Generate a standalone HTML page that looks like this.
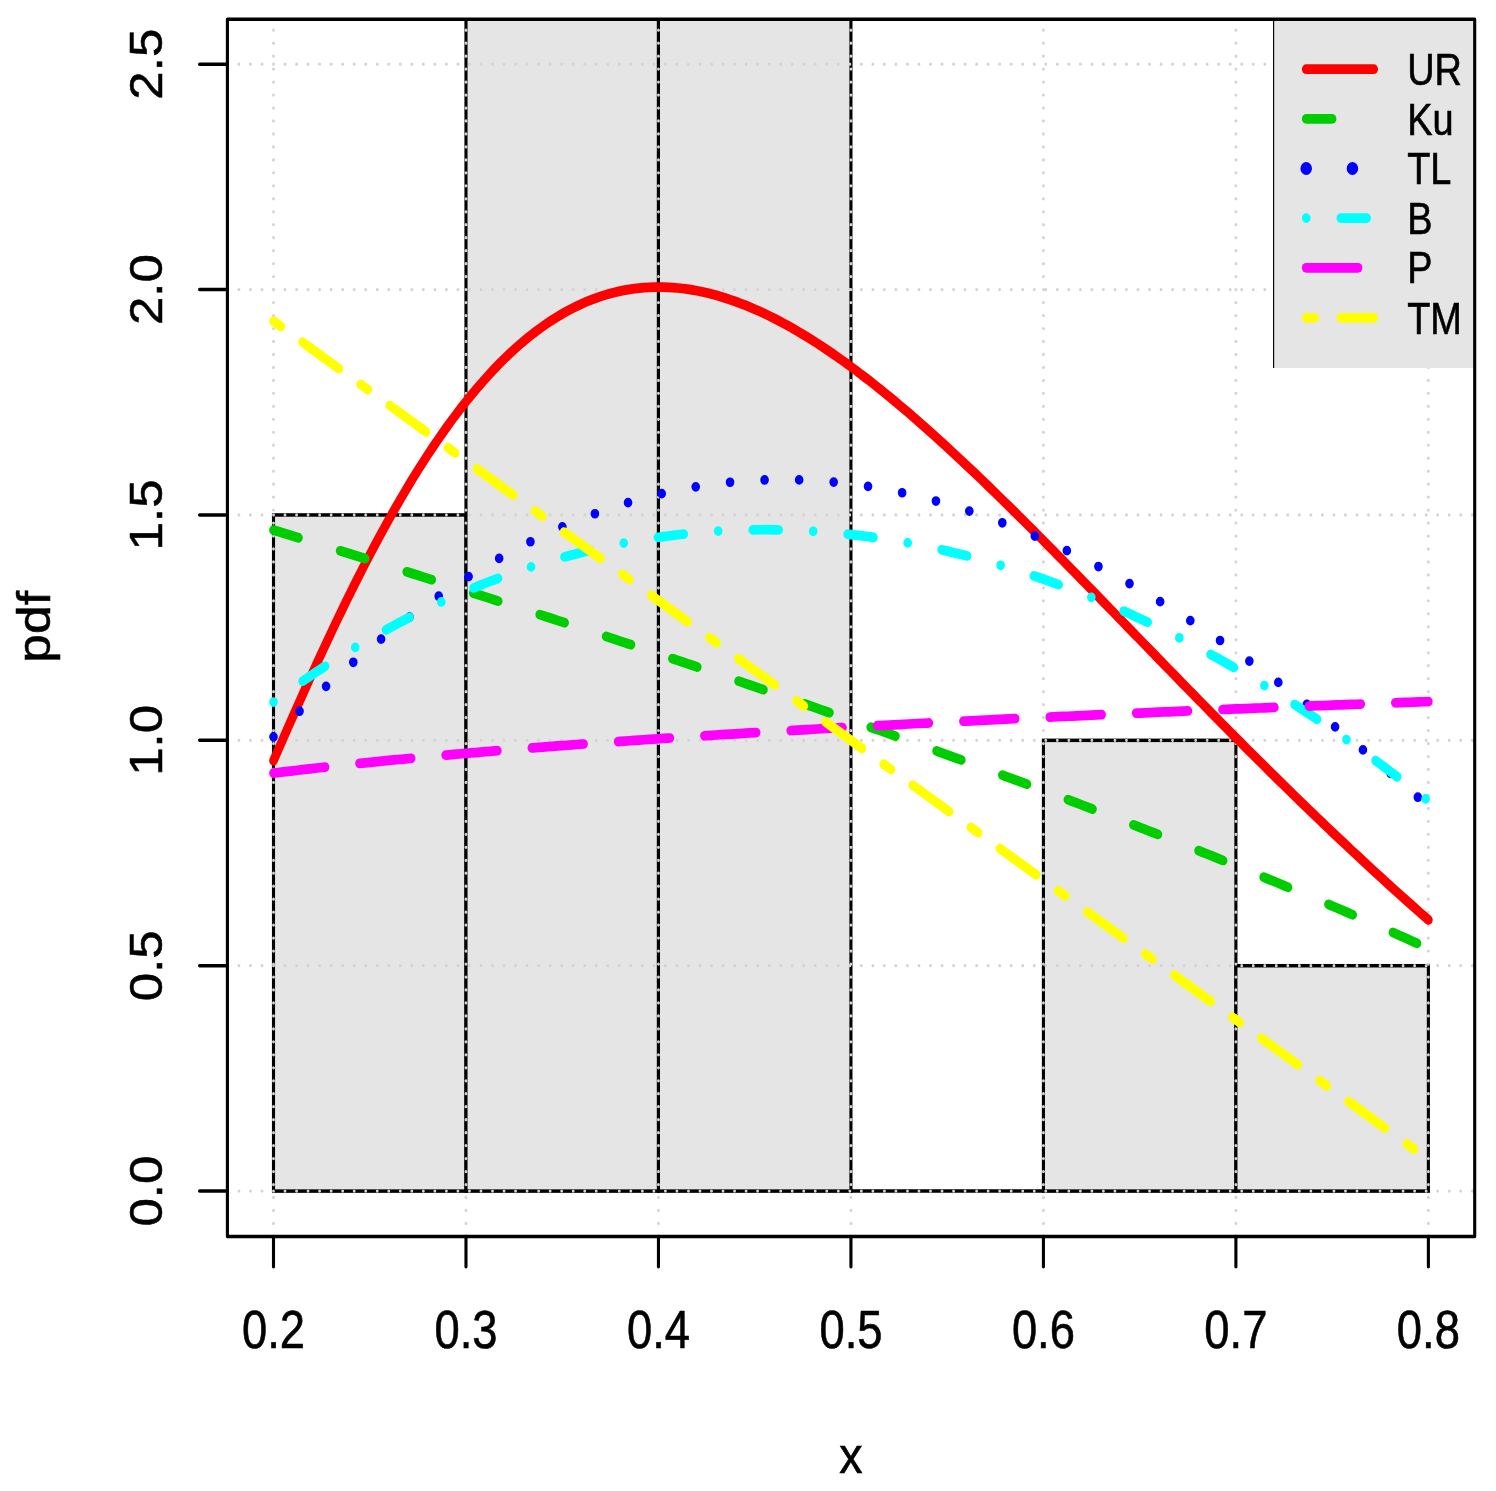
<!DOCTYPE html>
<html><head><meta charset="utf-8"><title>pdf plot</title>
<style>html,body{margin:0;padding:0;background:#fff;overflow:hidden}svg{display:block}text{font-family:"Liberation Sans",Arial,Helvetica,sans-serif;fill:#000}</style>
</head><body>
<svg width="1496" height="1491" viewBox="0 0 1496 1491">
<rect x="0" y="0" width="1496" height="1491" fill="#ffffff"/>
<defs><clipPath id="plt"><rect x="255.88" y="19.30" width="1403.51" height="1217.10"/></clipPath></defs>
<g transform="scale(0.8887,1)">
<g clip-path="url(#plt)" fill="#e5e5e5" stroke="#000" stroke-width="3.50" stroke-linejoin="miter">
<rect x="307.75" y="514.96" width="216.59" height="676.14"/>
<rect x="524.34" y="-386.56" width="216.59" height="1577.66"/>
<rect x="740.92" y="-386.56" width="216.59" height="1577.66"/>
<rect x="957.51" y="1191.10" width="216.59" height="0.00"/>
<rect x="1174.10" y="740.34" width="216.59" height="450.76"/>
<rect x="1390.68" y="965.72" width="216.59" height="225.38"/>
<path d="M957.51 1191.10H1174.10"/>
</g>
<g stroke="#d3d3d3" stroke-width="3.25" stroke-linecap="round" stroke-dasharray="0 12.97" fill="none">
<path d="M307.75 1236.40V19.30"/>
<path d="M524.34 1236.40V19.30"/>
<path d="M740.92 1236.40V19.30"/>
<path d="M957.51 1236.40V19.30"/>
<path d="M1174.10 1236.40V19.30"/>
<path d="M1390.68 1236.40V19.30"/>
<path d="M1607.27 1236.40V19.30"/>
<path d="M255.88 1191.10H1659.39"/>
<path d="M255.88 965.72H1659.39"/>
<path d="M255.88 740.34H1659.39"/>
<path d="M255.88 514.96H1659.39"/>
<path d="M255.88 289.58H1659.39"/>
<path d="M255.88 64.20H1659.39"/>
</g>
<g clip-path="url(#plt)" fill="none" stroke-width="9.727" stroke-linecap="round" stroke-linejoin="round">
<polyline points="307.75,760.61 313.17,749.58 318.58,738.59 324.00,727.65 329.41,716.77 334.83,705.94 340.24,695.19 345.66,684.51 351.07,673.91 356.48,663.40 361.90,652.98 367.31,642.65 372.73,632.43 378.14,622.31 383.56,612.31 388.97,602.42 394.39,592.65 399.80,583.00 405.22,573.48 410.63,564.09 416.05,554.84 421.46,545.73 426.88,536.75 432.29,527.92 437.70,519.23 443.12,510.70 448.53,502.31 453.95,494.08 459.36,486.00 464.78,478.08 470.19,470.31 475.61,462.71 481.02,455.26 486.44,447.98 491.85,440.87 497.27,433.91 502.68,427.12 508.09,420.50 513.51,414.04 518.92,407.75 524.34,401.63 529.75,395.67 535.17,389.88 540.58,384.26 546.00,378.81 551.41,373.52 556.83,368.40 562.24,363.44 567.66,358.65 573.07,354.03 578.49,349.57 583.90,345.27 589.31,341.14 594.73,337.17 600.14,333.36 605.56,329.72 610.97,326.23 616.39,322.90 621.80,319.73 627.22,316.71 632.63,313.85 638.05,311.14 643.46,308.59 648.88,306.19 654.29,303.93 659.71,301.83 665.12,299.87 670.53,298.06 675.95,296.39 681.36,294.87 686.78,293.48 692.19,292.24 697.61,291.13 703.02,290.16 708.44,289.32 713.85,288.62 719.27,288.04 724.68,287.60 730.10,287.29 735.51,287.10 740.92,287.03 746.34,287.09 751.75,287.27 757.17,287.57 762.58,287.98 768.00,288.52 773.41,289.16 778.83,289.92 784.24,290.79 789.66,291.76 795.07,292.85 800.49,294.04 805.90,295.33 811.32,296.73 816.73,298.22 822.14,299.81 827.56,301.50 832.97,303.29 838.39,305.17 843.80,307.13 849.22,309.19 854.63,311.34 860.05,313.58 865.46,315.89 870.88,318.30 876.29,320.78 881.71,323.34 887.12,325.98 892.54,328.70 897.95,331.49 903.36,334.36 908.78,337.30 914.19,340.31 919.61,343.39 925.02,346.53 930.44,349.74 935.85,353.02 941.27,356.35 946.68,359.75 952.10,363.21 957.51,366.73 962.93,370.30 968.34,373.93 973.75,377.61 979.17,381.35 984.58,385.14 990.00,388.98 995.41,392.86 1000.83,396.80 1006.24,400.78 1011.66,404.80 1017.07,408.87 1022.49,412.98 1027.90,417.14 1033.32,421.33 1038.73,425.56 1044.15,429.83 1049.56,434.13 1054.97,438.47 1060.39,442.84 1065.80,447.25 1071.22,451.69 1076.63,456.15 1082.05,460.65 1087.46,465.18 1092.88,469.73 1098.29,474.31 1103.71,478.92 1109.12,483.55 1114.54,488.20 1119.95,492.87 1125.37,497.57 1130.78,502.29 1136.19,507.03 1141.61,511.78 1147.02,516.55 1152.44,521.34 1157.85,526.15 1163.27,530.97 1168.68,535.81 1174.10,540.65 1179.51,545.52 1184.93,550.39 1190.34,555.27 1195.76,560.17 1201.17,565.07 1206.58,569.98 1212.00,574.90 1217.41,579.83 1222.83,584.76 1228.24,589.70 1233.66,594.65 1239.07,599.60 1244.49,604.55 1249.90,609.51 1255.32,614.47 1260.73,619.43 1266.15,624.39 1271.56,629.35 1276.98,634.32 1282.39,639.28 1287.80,644.24 1293.22,649.20 1298.63,654.16 1304.05,659.11 1309.46,664.06 1314.88,669.01 1320.29,673.95 1325.71,678.89 1331.12,683.83 1336.54,688.75 1341.95,693.68 1347.37,698.59 1352.78,703.50 1358.20,708.40 1363.61,713.29 1369.02,718.18 1374.44,723.05 1379.85,727.92 1385.27,732.77 1390.68,737.62 1396.10,742.46 1401.51,747.28 1406.93,752.10 1412.34,756.90 1417.76,761.69 1423.17,766.47 1428.59,771.24 1434.00,775.99 1439.41,780.73 1444.83,785.46 1450.24,790.18 1455.66,794.88 1461.07,799.56 1466.49,804.24 1471.90,808.89 1477.32,813.54 1482.73,818.16 1488.15,822.77 1493.56,827.37 1498.98,831.95 1504.39,836.52 1509.81,841.06 1515.22,845.59 1520.63,850.11 1526.05,854.61 1531.46,859.09 1536.88,863.55 1542.29,868.00 1547.71,872.42 1553.12,876.83 1558.54,881.23 1563.95,885.60 1569.37,889.96 1574.78,894.29 1580.20,898.61 1585.61,902.91 1591.03,907.19 1596.44,911.45 1601.85,915.69 1607.27,919.92" stroke="#ff0000"/>
<polyline points="307.75,530.06 313.17,531.54 318.58,533.03 324.00,534.52 329.41,536.01 334.83,537.50 340.24,539.00 345.66,540.49 351.07,541.99 356.48,543.49 361.90,544.99 367.31,546.49 372.73,547.99 378.14,549.50 383.56,551.00 388.97,552.51 394.39,554.02 399.80,555.53 405.22,557.04 410.63,558.55 416.05,560.07 421.46,561.58 426.88,563.10 432.29,564.62 437.70,566.14 443.12,567.66 448.53,569.19 453.95,570.71 459.36,572.24 464.78,573.77 470.19,575.30 475.61,576.83 481.02,578.36 486.44,579.90 491.85,581.43 497.27,582.97 502.68,584.51 508.09,586.05 513.51,587.59 518.92,589.14 524.34,590.68 529.75,592.23 535.17,593.78 540.58,595.33 546.00,596.88 551.41,598.44 556.83,599.99 562.24,601.55 567.66,603.11 573.07,604.67 578.49,606.23 583.90,607.79 589.31,609.36 594.73,610.93 600.14,612.50 605.56,614.07 610.97,615.64 616.39,617.21 621.80,618.79 627.22,620.37 632.63,621.95 638.05,623.53 643.46,625.11 648.88,626.70 654.29,628.28 659.71,629.87 665.12,631.46 670.53,633.05 675.95,634.64 681.36,636.24 686.78,637.84 692.19,639.44 697.61,641.04 703.02,642.64 708.44,644.24 713.85,645.85 719.27,647.46 724.68,649.07 730.10,650.68 735.51,652.30 740.92,653.91 746.34,655.53 751.75,657.15 757.17,658.77 762.58,660.39 768.00,662.02 773.41,663.65 778.83,665.28 784.24,666.91 789.66,668.54 795.07,670.18 800.49,671.81 805.90,673.45 811.32,675.09 816.73,676.74 822.14,678.38 827.56,680.03 832.97,681.68 838.39,683.33 843.80,684.99 849.22,686.64 854.63,688.30 860.05,689.96 865.46,691.62 870.88,693.29 876.29,694.96 881.71,696.62 887.12,698.30 892.54,699.97 897.95,701.64 903.36,703.32 908.78,705.00 914.19,706.69 919.61,708.37 925.02,710.06 930.44,711.75 935.85,713.44 941.27,715.13 946.68,716.83 952.10,718.53 957.51,720.23 962.93,721.93 968.34,723.64 973.75,725.34 979.17,727.06 984.58,728.77 990.00,730.48 995.41,732.20 1000.83,733.92 1006.24,735.65 1011.66,737.37 1017.07,739.10 1022.49,740.83 1027.90,742.56 1033.32,744.30 1038.73,746.04 1044.15,747.78 1049.56,749.52 1054.97,751.27 1060.39,753.02 1065.80,754.77 1071.22,756.52 1076.63,758.28 1082.05,760.04 1087.46,761.80 1092.88,763.57 1098.29,765.34 1103.71,767.11 1109.12,768.88 1114.54,770.66 1119.95,772.44 1125.37,774.22 1130.78,776.01 1136.19,777.80 1141.61,779.59 1147.02,781.39 1152.44,783.18 1157.85,784.98 1163.27,786.79 1168.68,788.59 1174.10,790.40 1179.51,792.22 1184.93,794.03 1190.34,795.85 1195.76,797.68 1201.17,799.50 1206.58,801.33 1212.00,803.17 1217.41,805.00 1222.83,806.84 1228.24,808.68 1233.66,810.53 1239.07,812.38 1244.49,814.23 1249.90,816.09 1255.32,817.95 1260.73,819.81 1266.15,821.68 1271.56,823.55 1276.98,825.43 1282.39,827.31 1287.80,829.19 1293.22,831.07 1298.63,832.96 1304.05,834.86 1309.46,836.76 1314.88,838.66 1320.29,840.56 1325.71,842.47 1331.12,844.39 1336.54,846.30 1341.95,848.22 1347.37,850.15 1352.78,852.08 1358.20,854.01 1363.61,855.95 1369.02,857.89 1374.44,859.84 1379.85,861.79 1385.27,863.75 1390.68,865.71 1396.10,867.67 1401.51,869.64 1406.93,871.62 1412.34,873.60 1417.76,875.58 1423.17,877.57 1428.59,879.56 1434.00,881.56 1439.41,883.56 1444.83,885.57 1450.24,887.58 1455.66,889.60 1461.07,891.63 1466.49,893.65 1471.90,895.69 1477.32,897.73 1482.73,899.77 1488.15,901.82 1493.56,903.88 1498.98,905.94 1504.39,908.01 1509.81,910.08 1515.22,912.16 1520.63,914.24 1526.05,916.33 1531.46,918.43 1536.88,920.53 1542.29,922.64 1547.71,924.76 1553.12,926.88 1558.54,929.01 1563.95,931.15 1569.37,933.29 1574.78,935.44 1580.20,937.59 1585.61,939.75 1591.03,941.92 1596.44,944.10 1601.85,946.29 1607.27,948.48" stroke="#00cd00" stroke-dasharray="29.18 48.64"/>
<polyline points="307.75,736.84 313.17,732.01 318.58,727.21 324.00,722.46 329.41,717.76 334.83,713.09 340.24,708.47 345.66,703.89 351.07,699.36 356.48,694.87 361.90,690.42 367.31,686.02 372.73,681.66 378.14,677.34 383.56,673.08 388.97,668.85 394.39,664.67 399.80,660.54 405.22,656.45 410.63,652.41 416.05,648.41 421.46,644.46 426.88,640.55 432.29,636.69 437.70,632.88 443.12,629.11 448.53,625.39 453.95,621.72 459.36,618.09 464.78,614.51 470.19,610.97 475.61,607.49 481.02,604.04 486.44,600.65 491.85,597.30 497.27,594.00 502.68,590.75 508.09,587.54 513.51,584.39 518.92,581.27 524.34,578.21 529.75,575.19 535.17,572.22 540.58,569.30 546.00,566.43 551.41,563.60 556.83,560.82 562.24,558.09 567.66,555.40 573.07,552.76 578.49,550.17 583.90,547.63 589.31,545.13 594.73,542.69 600.14,540.29 605.56,537.93 610.97,535.63 616.39,533.37 621.80,531.16 627.22,528.99 632.63,526.88 638.05,524.81 643.46,522.79 648.88,520.81 654.29,518.88 659.71,517.00 665.12,515.17 670.53,513.38 675.95,511.64 681.36,509.95 686.78,508.31 692.19,506.71 697.61,505.15 703.02,503.65 708.44,502.19 713.85,500.78 719.27,499.41 724.68,498.09 730.10,496.82 735.51,495.59 740.92,494.41 746.34,493.28 751.75,492.19 757.17,491.15 762.58,490.15 768.00,489.20 773.41,488.30 778.83,487.44 784.24,486.62 789.66,485.85 795.07,485.13 800.49,484.45 805.90,483.82 811.32,483.23 816.73,482.69 822.14,482.19 827.56,481.74 832.97,481.33 838.39,480.97 843.80,480.65 849.22,480.37 854.63,480.14 860.05,479.95 865.46,479.81 870.88,479.71 876.29,479.65 881.71,479.64 887.12,479.67 892.54,479.75 897.95,479.87 903.36,480.03 908.78,480.23 914.19,480.48 919.61,480.77 925.02,481.10 930.44,481.47 935.85,481.89 941.27,482.35 946.68,482.85 952.10,483.39 957.51,483.97 962.93,484.60 968.34,485.27 973.75,485.98 979.17,486.73 984.58,487.52 990.00,488.35 995.41,489.22 1000.83,490.13 1006.24,491.09 1011.66,492.08 1017.07,493.11 1022.49,494.19 1027.90,495.30 1033.32,496.45 1038.73,497.65 1044.15,498.88 1049.56,500.15 1054.97,501.46 1060.39,502.81 1065.80,504.19 1071.22,505.62 1076.63,507.08 1082.05,508.59 1087.46,510.13 1092.88,511.71 1098.29,513.32 1103.71,514.97 1109.12,516.67 1114.54,518.39 1119.95,520.16 1125.37,521.96 1130.78,523.80 1136.19,525.67 1141.61,527.58 1147.02,529.53 1152.44,531.51 1157.85,533.53 1163.27,535.59 1168.68,537.68 1174.10,539.80 1179.51,541.96 1184.93,544.16 1190.34,546.39 1195.76,548.65 1201.17,550.95 1206.58,553.28 1212.00,555.65 1217.41,558.05 1222.83,560.48 1228.24,562.95 1233.66,565.45 1239.07,567.98 1244.49,570.55 1249.90,573.15 1255.32,575.78 1260.73,578.44 1266.15,581.14 1271.56,583.87 1276.98,586.62 1282.39,589.41 1287.80,592.24 1293.22,595.09 1298.63,597.97 1304.05,600.89 1309.46,603.83 1314.88,606.80 1320.29,609.81 1325.71,612.84 1331.12,615.91 1336.54,619.00 1341.95,622.12 1347.37,625.28 1352.78,628.46 1358.20,631.67 1363.61,634.91 1369.02,638.17 1374.44,641.47 1379.85,644.79 1385.27,648.14 1390.68,651.51 1396.10,654.92 1401.51,658.35 1406.93,661.81 1412.34,665.29 1417.76,668.80 1423.17,672.34 1428.59,675.90 1434.00,679.49 1439.41,683.11 1444.83,686.75 1450.24,690.41 1455.66,694.10 1461.07,697.82 1466.49,701.55 1471.90,705.32 1477.32,709.10 1482.73,712.92 1488.15,716.75 1493.56,720.61 1498.98,724.49 1504.39,728.39 1509.81,732.32 1515.22,736.27 1520.63,740.24 1526.05,744.23 1531.46,748.25 1536.88,752.29 1542.29,756.35 1547.71,760.43 1553.12,764.53 1558.54,768.65 1563.95,772.79 1569.37,776.95 1574.78,781.14 1580.20,785.34 1585.61,789.56 1591.03,793.80 1596.44,798.06 1601.85,802.34 1607.27,806.64" stroke="#0000ff" stroke-dasharray="0.00 38.91"/>
<polyline points="307.75,702.03 313.17,698.49 318.58,694.99 324.00,691.53 329.41,688.11 334.83,684.73 340.24,681.40 345.66,678.10 351.07,674.85 356.48,671.63 361.90,668.46 367.31,665.33 372.73,662.23 378.14,659.18 383.56,656.17 388.97,653.19 394.39,650.26 399.80,647.36 405.22,644.50 410.63,641.68 416.05,638.90 421.46,636.16 426.88,633.45 432.29,630.79 437.70,628.16 443.12,625.57 448.53,623.01 453.95,620.50 459.36,618.02 464.78,615.57 470.19,613.17 475.61,610.80 481.02,608.47 486.44,606.17 491.85,603.91 497.27,601.69 502.68,599.50 508.09,597.35 513.51,595.23 518.92,593.15 524.34,591.11 529.75,589.10 535.17,587.12 540.58,585.18 546.00,583.28 551.41,581.41 556.83,579.58 562.24,577.78 567.66,576.01 573.07,574.29 578.49,572.59 583.90,570.93 589.31,569.30 594.73,567.71 600.14,566.15 605.56,564.63 610.97,563.13 616.39,561.68 621.80,560.25 627.22,558.86 632.63,557.51 638.05,556.19 643.46,554.90 648.88,553.64 654.29,552.42 659.71,551.23 665.12,550.07 670.53,548.94 675.95,547.85 681.36,546.79 686.78,545.77 692.19,544.77 697.61,543.81 703.02,542.88 708.44,541.99 713.85,541.12 719.27,540.29 724.68,539.49 730.10,538.72 735.51,537.98 740.92,537.28 746.34,536.61 751.75,535.97 757.17,535.36 762.58,534.78 768.00,534.24 773.41,533.72 778.83,533.24 784.24,532.79 789.66,532.37 795.07,531.98 800.49,531.62 805.90,531.29 811.32,531.00 816.73,530.73 822.14,530.50 827.56,530.30 832.97,530.12 838.39,529.98 843.80,529.87 849.22,529.79 854.63,529.74 860.05,529.72 865.46,529.73 870.88,529.78 876.29,529.85 881.71,529.95 887.12,530.08 892.54,530.25 897.95,530.44 903.36,530.66 908.78,530.92 914.19,531.20 919.61,531.51 925.02,531.85 930.44,532.23 935.85,532.63 941.27,533.06 946.68,533.52 952.10,534.02 957.51,534.54 962.93,535.09 968.34,535.67 973.75,536.28 979.17,536.92 984.58,537.59 990.00,538.28 995.41,539.01 1000.83,539.77 1006.24,540.55 1011.66,541.37 1017.07,542.21 1022.49,543.09 1027.90,543.99 1033.32,544.92 1038.73,545.88 1044.15,546.87 1049.56,547.88 1054.97,548.93 1060.39,550.01 1065.80,551.11 1071.22,552.24 1076.63,553.40 1082.05,554.59 1087.46,555.81 1092.88,557.06 1098.29,558.34 1103.71,559.64 1109.12,560.97 1114.54,562.33 1119.95,563.72 1125.37,565.14 1130.78,566.59 1136.19,568.06 1141.61,569.56 1147.02,571.09 1152.44,572.65 1157.85,574.24 1163.27,575.86 1168.68,577.50 1174.10,579.17 1179.51,580.87 1184.93,582.60 1190.34,584.35 1195.76,586.13 1201.17,587.94 1206.58,589.78 1212.00,591.65 1217.41,593.54 1222.83,595.46 1228.24,597.41 1233.66,599.39 1239.07,601.40 1244.49,603.43 1249.90,605.49 1255.32,607.58 1260.73,609.69 1266.15,611.83 1271.56,614.00 1276.98,616.20 1282.39,618.43 1287.80,620.68 1293.22,622.96 1298.63,625.27 1304.05,627.60 1309.46,629.96 1314.88,632.35 1320.29,634.77 1325.71,637.21 1331.12,639.68 1336.54,642.18 1341.95,644.70 1347.37,647.25 1352.78,649.83 1358.20,652.44 1363.61,655.07 1369.02,657.73 1374.44,660.42 1379.85,663.13 1385.27,665.87 1390.68,668.64 1396.10,671.43 1401.51,674.25 1406.93,677.10 1412.34,679.97 1417.76,682.87 1423.17,685.80 1428.59,688.76 1434.00,691.74 1439.41,694.75 1444.83,697.78 1450.24,700.84 1455.66,703.93 1461.07,707.05 1466.49,710.19 1471.90,713.35 1477.32,716.55 1482.73,719.77 1488.15,723.02 1493.56,726.29 1498.98,729.59 1504.39,732.92 1509.81,736.27 1515.22,739.65 1520.63,743.05 1526.05,746.49 1531.46,749.94 1536.88,753.43 1542.29,756.94 1547.71,760.48 1553.12,764.04 1558.54,767.63 1563.95,771.24 1569.37,774.89 1574.78,778.55 1580.20,782.25 1585.61,785.97 1591.03,789.71 1596.44,793.49 1601.85,797.29 1607.27,801.11" stroke="#00ffff" stroke-dasharray="0.00 38.91 29.18 38.91"/>
<polyline points="307.75,773.13 313.17,772.53 318.58,771.95 324.00,771.37 329.41,770.80 334.83,770.23 340.24,769.67 345.66,769.11 351.07,768.56 356.48,768.02 361.90,767.48 367.31,766.94 372.73,766.41 378.14,765.89 383.56,765.37 388.97,764.86 394.39,764.35 399.80,763.84 405.22,763.34 410.63,762.85 416.05,762.36 421.46,761.87 426.88,761.39 432.29,760.91 437.70,760.44 443.12,759.97 448.53,759.50 453.95,759.04 459.36,758.58 464.78,758.13 470.19,757.67 475.61,757.23 481.02,756.78 486.44,756.34 491.85,755.91 497.27,755.47 502.68,755.04 508.09,754.62 513.51,754.19 518.92,753.77 524.34,753.35 529.75,752.94 535.17,752.53 540.58,752.12 546.00,751.71 551.41,751.31 556.83,750.91 562.24,750.52 567.66,750.12 573.07,749.73 578.49,749.34 583.90,748.96 589.31,748.57 594.73,748.19 600.14,747.81 605.56,747.44 610.97,747.06 616.39,746.69 621.80,746.32 627.22,745.96 632.63,745.59 638.05,745.23 643.46,744.87 648.88,744.52 654.29,744.16 659.71,743.81 665.12,743.46 670.53,743.11 675.95,742.76 681.36,742.42 686.78,742.08 692.19,741.74 697.61,741.40 703.02,741.06 708.44,740.73 713.85,740.39 719.27,740.06 724.68,739.73 730.10,739.41 735.51,739.08 740.92,738.76 746.34,738.44 751.75,738.12 757.17,737.80 762.58,737.48 768.00,737.17 773.41,736.86 778.83,736.55 784.24,736.24 789.66,735.93 795.07,735.62 800.49,735.32 805.90,735.01 811.32,734.71 816.73,734.41 822.14,734.11 827.56,733.82 832.97,733.52 838.39,733.23 843.80,732.94 849.22,732.64 854.63,732.36 860.05,732.07 865.46,731.78 870.88,731.49 876.29,731.21 881.71,730.93 887.12,730.65 892.54,730.37 897.95,730.09 903.36,729.81 908.78,729.53 914.19,729.26 919.61,728.99 925.02,728.71 930.44,728.44 935.85,728.17 941.27,727.90 946.68,727.64 952.10,727.37 957.51,727.11 962.93,726.84 968.34,726.58 973.75,726.32 979.17,726.06 984.58,725.80 990.00,725.54 995.41,725.28 1000.83,725.03 1006.24,724.77 1011.66,724.52 1017.07,724.26 1022.49,724.01 1027.90,723.76 1033.32,723.51 1038.73,723.26 1044.15,723.02 1049.56,722.77 1054.97,722.52 1060.39,722.28 1065.80,722.04 1071.22,721.79 1076.63,721.55 1082.05,721.31 1087.46,721.07 1092.88,720.83 1098.29,720.60 1103.71,720.36 1109.12,720.12 1114.54,719.89 1119.95,719.65 1125.37,719.42 1130.78,719.19 1136.19,718.96 1141.61,718.73 1147.02,718.50 1152.44,718.27 1157.85,718.04 1163.27,717.81 1168.68,717.59 1174.10,717.36 1179.51,717.14 1184.93,716.91 1190.34,716.69 1195.76,716.47 1201.17,716.25 1206.58,716.02 1212.00,715.81 1217.41,715.59 1222.83,715.37 1228.24,715.15 1233.66,714.93 1239.07,714.72 1244.49,714.50 1249.90,714.29 1255.32,714.07 1260.73,713.86 1266.15,713.65 1271.56,713.44 1276.98,713.23 1282.39,713.02 1287.80,712.81 1293.22,712.60 1298.63,712.39 1304.05,712.18 1309.46,711.98 1314.88,711.77 1320.29,711.57 1325.71,711.36 1331.12,711.16 1336.54,710.96 1341.95,710.75 1347.37,710.55 1352.78,710.35 1358.20,710.15 1363.61,709.95 1369.02,709.75 1374.44,709.55 1379.85,709.36 1385.27,709.16 1390.68,708.96 1396.10,708.77 1401.51,708.57 1406.93,708.38 1412.34,708.18 1417.76,707.99 1423.17,707.79 1428.59,707.60 1434.00,707.41 1439.41,707.22 1444.83,707.03 1450.24,706.84 1455.66,706.65 1461.07,706.46 1466.49,706.27 1471.90,706.08 1477.32,705.90 1482.73,705.71 1488.15,705.52 1493.56,705.34 1498.98,705.15 1504.39,704.97 1509.81,704.79 1515.22,704.60 1520.63,704.42 1526.05,704.24 1531.46,704.06 1536.88,703.88 1542.29,703.69 1547.71,703.51 1553.12,703.33 1558.54,703.16 1563.95,702.98 1569.37,702.80 1574.78,702.62 1580.20,702.44 1585.61,702.27 1591.03,702.09 1596.44,701.92 1601.85,701.74 1607.27,701.57" stroke="#ff00ff" stroke-dasharray="58.36 38.91"/>
<polyline points="307.75,321.13 313.17,324.63 318.58,328.12 324.00,331.61 329.41,335.11 334.83,338.60 340.24,342.09 345.66,345.59 351.07,349.08 356.48,352.57 361.90,356.07 367.31,359.56 372.73,363.05 378.14,366.55 383.56,370.04 388.97,373.53 394.39,377.03 399.80,380.52 405.22,384.01 410.63,387.51 416.05,391.00 421.46,394.49 426.88,397.99 432.29,401.48 437.70,404.97 443.12,408.47 448.53,411.96 453.95,415.45 459.36,418.95 464.78,422.44 470.19,425.93 475.61,429.43 481.02,432.92 486.44,436.42 491.85,439.91 497.27,443.40 502.68,446.90 508.09,450.39 513.51,453.88 518.92,457.38 524.34,460.87 529.75,464.36 535.17,467.86 540.58,471.35 546.00,474.84 551.41,478.34 556.83,481.83 562.24,485.32 567.66,488.82 573.07,492.31 578.49,495.80 583.90,499.30 589.31,502.79 594.73,506.28 600.14,509.78 605.56,513.27 610.97,516.76 616.39,520.26 621.80,523.75 627.22,527.24 632.63,530.74 638.05,534.23 643.46,537.72 648.88,541.22 654.29,544.71 659.71,548.20 665.12,551.70 670.53,555.19 675.95,558.68 681.36,562.18 686.78,565.67 692.19,569.16 697.61,572.66 703.02,576.15 708.44,579.64 713.85,583.14 719.27,586.63 724.68,590.12 730.10,593.62 735.51,597.11 740.92,600.60 746.34,604.10 751.75,607.59 757.17,611.08 762.58,614.58 768.00,618.07 773.41,621.56 778.83,625.06 784.24,628.55 789.66,632.04 795.07,635.54 800.49,639.03 805.90,642.53 811.32,646.02 816.73,649.51 822.14,653.01 827.56,656.50 832.97,659.99 838.39,663.49 843.80,666.98 849.22,670.47 854.63,673.97 860.05,677.46 865.46,680.95 870.88,684.45 876.29,687.94 881.71,691.43 887.12,694.93 892.54,698.42 897.95,701.91 903.36,705.41 908.78,708.90 914.19,712.39 919.61,715.89 925.02,719.38 930.44,722.87 935.85,726.37 941.27,729.86 946.68,733.35 952.10,736.85 957.51,740.34 962.93,743.83 968.34,747.33 973.75,750.82 979.17,754.31 984.58,757.81 990.00,761.30 995.41,764.79 1000.83,768.29 1006.24,771.78 1011.66,775.27 1017.07,778.77 1022.49,782.26 1027.90,785.75 1033.32,789.25 1038.73,792.74 1044.15,796.23 1049.56,799.73 1054.97,803.22 1060.39,806.71 1065.80,810.21 1071.22,813.70 1076.63,817.19 1082.05,820.69 1087.46,824.18 1092.88,827.67 1098.29,831.17 1103.71,834.66 1109.12,838.15 1114.54,841.65 1119.95,845.14 1125.37,848.64 1130.78,852.13 1136.19,855.62 1141.61,859.12 1147.02,862.61 1152.44,866.10 1157.85,869.60 1163.27,873.09 1168.68,876.58 1174.10,880.08 1179.51,883.57 1184.93,887.06 1190.34,890.56 1195.76,894.05 1201.17,897.54 1206.58,901.04 1212.00,904.53 1217.41,908.02 1222.83,911.52 1228.24,915.01 1233.66,918.50 1239.07,922.00 1244.49,925.49 1249.90,928.98 1255.32,932.48 1260.73,935.97 1266.15,939.46 1271.56,942.96 1276.98,946.45 1282.39,949.94 1287.80,953.44 1293.22,956.93 1298.63,960.42 1304.05,963.92 1309.46,967.41 1314.88,970.90 1320.29,974.40 1325.71,977.89 1331.12,981.38 1336.54,984.88 1341.95,988.37 1347.37,991.86 1352.78,995.36 1358.20,998.85 1363.61,1002.34 1369.02,1005.84 1374.44,1009.33 1379.85,1012.82 1385.27,1016.32 1390.68,1019.81 1396.10,1023.30 1401.51,1026.80 1406.93,1030.29 1412.34,1033.78 1417.76,1037.28 1423.17,1040.77 1428.59,1044.26 1434.00,1047.76 1439.41,1051.25 1444.83,1054.75 1450.24,1058.24 1455.66,1061.73 1461.07,1065.23 1466.49,1068.72 1471.90,1072.21 1477.32,1075.71 1482.73,1079.20 1488.15,1082.69 1493.56,1086.19 1498.98,1089.68 1504.39,1093.17 1509.81,1096.67 1515.22,1100.16 1520.63,1103.65 1526.05,1107.15 1531.46,1110.64 1536.88,1114.13 1542.29,1117.63 1547.71,1121.12 1553.12,1124.61 1558.54,1128.11 1563.95,1131.60 1569.37,1135.09 1574.78,1138.59 1580.20,1142.08 1585.61,1145.57 1591.03,1149.07 1596.44,1152.56 1601.85,1156.05 1607.27,1159.55" stroke="#ffff00" stroke-dasharray="9.73 29.18 48.64 29.18"/>
</g>
<rect x="1433.10" y="19.3" width="226.29" height="348.7" fill="#e5e5e5"/>
<path d="M1433.10 19.3V368.0" stroke="#000" stroke-width="1.3" fill="none"/>
<g fill="none" stroke-linecap="round">
<path d="M1469.79 69.2H1545.74" stroke="#ff0000" stroke-width="9.727"/>
<path d="M1469.79 118.9H1545.74" stroke="#00cd00" stroke-width="9.727" stroke-dasharray="29.18 48.64"/>
<path d="M1469.79 168.5H1545.74" stroke="#0000ff" stroke-width="13.0" stroke-dasharray="0.00 52.00"/>
<path d="M1469.79 218.1H1545.74" stroke="#00ffff" stroke-width="9.727" stroke-dasharray="0.00 38.91 29.18 38.91"/>
<path d="M1469.79 267.8H1545.74" stroke="#ff00ff" stroke-width="9.727" stroke-dasharray="58.36 38.91"/>
<path d="M1469.79 317.9H1545.74" stroke="#ffff00" stroke-width="9.727" stroke-dasharray="9.73 29.18 48.64 29.18"/>
</g>
<g stroke="#000" stroke-width="0.6">
<text transform="translate(1583.44,84.80) scale(0.9635,1)" font-size="44.3">UR</text>
<text transform="translate(1583.44,134.50) scale(0.9635,1)" font-size="44.3">Ku</text>
<text transform="translate(1583.44,184.10) scale(0.9635,1)" font-size="44.3">TL</text>
<text transform="translate(1583.44,233.70) scale(0.9635,1)" font-size="44.3">B</text>
<text transform="translate(1583.44,283.40) scale(0.9635,1)" font-size="44.3">P</text>
<text transform="translate(1583.44,333.50) scale(0.9635,1)" font-size="44.3">TM</text>
</g>
<g stroke="#000" stroke-width="3.5" fill="none" stroke-linecap="round" stroke-linejoin="round">
<rect x="255.88" y="19.3" width="1403.51" height="1217.10"/>
<path d="M307.75 1236.4v30.25"/>
<path d="M524.34 1236.4v30.25"/>
<path d="M740.92 1236.4v30.25"/>
<path d="M957.51 1236.4v30.25"/>
<path d="M1174.10 1236.4v30.25"/>
<path d="M1390.68 1236.4v30.25"/>
<path d="M1607.27 1236.4v30.25"/>
<path d="M255.88 1191.10h-31.3"/>
<path d="M255.88 965.72h-31.3"/>
<path d="M255.88 740.34h-31.3"/>
<path d="M255.88 514.96h-31.3"/>
<path d="M255.88 289.58h-31.3"/>
<path d="M255.88 64.20h-31.3"/>
</g>
<g stroke="#000" stroke-width="0.6" text-anchor="middle">
<text transform="translate(307.75,1348.1) scale(0.9635,1)" font-size="53.0">0.2</text>
<text transform="translate(524.34,1348.1) scale(0.9635,1)" font-size="53.0">0.3</text>
<text transform="translate(740.92,1348.1) scale(0.9635,1)" font-size="53.0">0.4</text>
<text transform="translate(957.51,1348.1) scale(0.9635,1)" font-size="53.0">0.5</text>
<text transform="translate(1174.10,1348.1) scale(0.9635,1)" font-size="53.0">0.6</text>
<text transform="translate(1390.68,1348.1) scale(0.9635,1)" font-size="53.0">0.7</text>
<text transform="translate(1607.27,1348.1) scale(0.9635,1)" font-size="53.0">0.8</text>
<text transform="translate(182.06,1191.10) rotate(-90) scale(0.9635,1)" font-size="53.0">0.0</text>
<text transform="translate(182.06,965.72) rotate(-90) scale(0.9635,1)" font-size="53.0">0.5</text>
<text transform="translate(182.06,740.34) rotate(-90) scale(0.9635,1)" font-size="53.0">1.0</text>
<text transform="translate(182.06,514.96) rotate(-90) scale(0.9635,1)" font-size="53.0">1.5</text>
<text transform="translate(182.06,289.58) rotate(-90) scale(0.9635,1)" font-size="53.0">2.0</text>
<text transform="translate(182.06,64.20) rotate(-90) scale(0.9635,1)" font-size="53.0">2.5</text>
<text x="957.51" y="1473" font-size="52.5">x</text>
<text transform="translate(56.26,626.85) rotate(-90)" font-size="51.6">pdf</text>
</g>
</g></svg></body></html>
